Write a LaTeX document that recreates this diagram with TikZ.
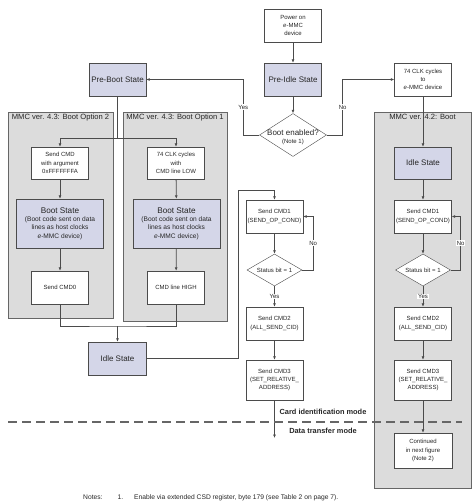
\documentclass[tikz,border=0pt]{standalone}
\usepackage{fontspec}
\setmainfont{Liberation Sans}
\usetikzlibrary{shapes.geometric,arrows.meta}
\definecolor{panelgray}{RGB}{220,220,220}
\definecolor{statefill}{RGB}{212,214,232}
\definecolor{linegray}{RGB}{75,75,75}

\begin{document}
\begin{tikzpicture}[x=1pt,y=-1pt]
\tikzstyle{every node}+=[inner sep=1pt, align=center, text=black!85]
\tikzstyle{txt}=[font=\fontsize{6}{8.3}\selectfont]
\tikzstyle{box}=[txt, draw=linegray, fill=white, minimum width=57pt, minimum height=33pt]
\tikzstyle{state}=[box, fill=statefill, font=\fontsize{8}{9.5}\selectfont]
\tikzstyle{bootbox}=[box, fill=statefill, font=\fontsize{6.6}{8.3}\selectfont, minimum width=87pt, minimum height=49pt]
\tikzstyle{test}=[diamond, draw=linegray, fill=white, inner sep=0pt, minimum width=55pt, minimum height=32pt]
\tikzstyle{panel}=[draw=linegray!85, fill=panelgray]
\tikzstyle{paneltitle}=[anchor=north, inner sep=2pt, font=\fontsize{7.6}{9}\selectfont]
\tikzstyle{link}=[draw=linegray, line width=0.8pt, -{Latex[length=3.5pt,width=3pt]}]
\tikzstyle{plain}=[draw=linegray, line width=0.8pt]
\tikzstyle{answer}=[txt, fill=white, inner sep=0.8pt]
\tikzstyle{mode}=[font=\bfseries\fontsize{7.4}{9}\selectfont]
\useasboundingbox (0,0) rectangle (474,504);

% boot option panels
\draw[panel] (8,112) rectangle (113,318);
\draw[panel] (123,112) rectangle (227,321);
\draw[panel] (374,112) rectangle (471,488);
\node[paneltitle] (opt2) at (60.5,112) {MMC ver. 4.3: Boot Option 2};
\node[paneltitle] (opt1) at (175,112) {MMC ver. 4.3: Boot Option 1};
\node[paneltitle] (v42) at (422.5,112) {MMC ver. 4.2: Boot};

% top
\node[box] (power) at (293,25.5) {Power on\\\textit{e}-MMC\\device};
\node[state] (preidle) at (293,79.5) {Pre-Idle State};
\node[test, minimum width=67pt, minimum height=43pt] (boot) at (293,135) {};
\node[font=\fontsize{8}{8.5}\selectfont] at (293,137) {Boot enabled?\\{\fontsize{6}{7}\selectfont(Note 1)}};
\node[state] (preboot) at (117.5,79.5) {Pre-Boot State};
\node[box] (clk74) at (423,79.5) {74 CLK cycles\\to\\\textit{e}-MMC device};

% boot option 2
\node[box, minimum height=32pt] (sendarg) at (60,163) {Send CMD\\with argument\\0xFFFFFFFA};
\node[bootbox] (bootA) at (60,223.5) {{\fontsize{8.2}{10}\selectfont Boot State}\\(Boot code sent on data\\lines as host clocks\\\textit{e}-MMC device)};
\node[box] (cmd0) at (60,287.5) {Send CMD0};

% boot option 1
\node[box, minimum height=32pt] (clklow) at (176,163) {74 CLK cycles\\with\\CMD line LOW};
\node[bootbox] (bootB) at (176.5,223.5) {{\fontsize{8.2}{10}\selectfont Boot State}\\(Boot code sent on data\\lines as host clocks\\\textit{e}-MMC device)};
\node[box] (cmdhigh) at (176,287.5) {CMD line HIGH};
\node[state, minimum width=58pt] (idleL) at (117.5,358.5) {Idle State};

% card identification, no boot
\node[box] (m1) at (274.5,216.5) {Send CMD1\\(SEND\_OP\_COND)};
\node[test] (md) at (274.5,270) {};
\node[txt] at (274.5,270) {Status bit = 1};
\node[box] (m2) at (274.5,323.5) {Send CMD2\\(ALL\_SEND\_CID)};
\node[box, minimum height=40pt] (m3) at (274.5,380) {Send CMD3\\(SET\_RELATIVE\_\\ADDRESS)};
\coordinate (m3end) at (274.5,438);

% card identification, ver. 4.2 boot
\node[state, minimum height=32pt] (idleR) at (423,163) {Idle State};
\node[box] (r1) at (423,216.5) {Send CMD1\\(SEND\_OP\_COND)};
\node[test] (rd) at (423,270) {};
\node[txt] at (423,270) {Status bit = 1};
\node[box] (r2) at (423,323.5) {Send CMD2\\(ALL\_SEND\_CID)};
\node[box, minimum height=40pt] (r3) at (423,380) {Send CMD3\\(SET\_RELATIVE\_\\ADDRESS)};
\node[box, minimum width=58pt, minimum height=35pt] (cont) at (423,450.5) {Continued\\in next figure\\(Note 2)};

% connectors
\draw[link] (power) -- (preidle);
\draw[link] (preidle) -- (boot);
\draw[link] (boot.west) -- ++(-16,0) |- node[answer, pos=0.25] {Yes} (preboot.east);
\draw[link] (boot.east) -- ++(16,0) |- node[answer, pos=0.25] {No} (clk74.west);
\coordinate (split) at (117.5,138);
\draw[plain] (preboot.south) -- (split);
\draw[link] (split) -| (sendarg.north);
\draw[link] (split) -| (clklow.north);
\draw[link] (sendarg) -- (bootA);
\draw[link] (bootA) -- (cmd0);
\draw[link] (clklow) -- (bootB);
\draw[link] (bootB) -- (cmdhigh);
\coordinate (merge) at (117.5,326);
\draw[plain] (cmd0.south) |- (merge) -| (cmdhigh.south);
\draw[link] (merge) -- (idleL.north);
\coordinate (turn) at (238,190);
\draw[link] (idleL.east) -| (turn) -| (m1.north);
\draw[link] (m1) -- (md);
\draw[link] (md.east) -- ++(11,0) |- node[answer, pos=0.25] {No} (m1.east);
\draw[link] (md) -- node[answer] {Yes} (m2);
\draw[link] (m2) -- (m3);
\draw[link] (m3) -- (m3end);
\draw[link] (clk74) -- (idleR);
\draw[link] (idleR) -- (r1);
\draw[link] (r1) -- (rd);
\draw[link] (rd.east) -- ++(10,0) |- node[answer, pos=0.25] {No} (r1.east);
\draw[link] (rd) -- node[answer] {Yes} (r2);
\draw[link] (r2) -- (r3);
\draw[link] (r3) -- (cont);

% mode border
\draw[draw=black!60, line width=1.3pt, dash pattern=on 9pt off 5pt] (8,422) -- (462,422);
\node[mode] (cardid) at (323,412) {Card identification mode};
\node[mode] (transfer) at (323,431) {Data transfer mode};

\node[anchor=west, font=\fontsize{6.7}{8}\selectfont] (notes) at (82,498) {Notes:\hspace{15pt}1.\hspace{11pt}Enable via extended CSD register, byte 179 (see Table 2 on page 7).};
\end{tikzpicture}
\end{document}
